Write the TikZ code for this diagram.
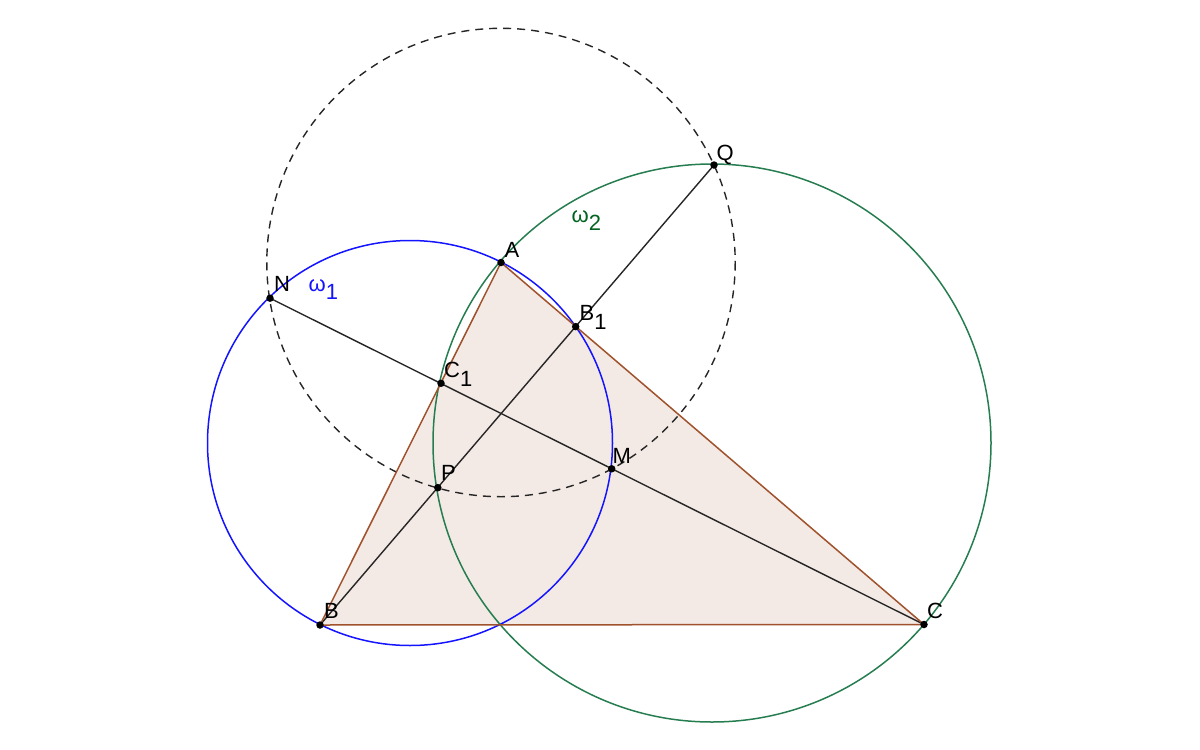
\documentclass[tikz,border=0pt]{standalone}
\usepackage{fontspec}
\setmainfont{Liberation Sans}
\definecolor{triFill}{RGB}{243,234,229}
\definecolor{triEdge}{RGB}{160,82,45}
\definecolor{omBlue}{RGB}{20,20,255}
\definecolor{omGreen}{RGB}{38,125,80}
\definecolor{omGreenTxt}{RGB}{0,100,30}
\newcommand{\sbs}[1]{\raisebox{-0.4em}{#1}}
\begin{document}
\begin{tikzpicture}[x=1pt,y=-1pt,
  pt/.style={circle,fill=black,inner sep=0pt,minimum size=7.5pt},
  lab/.style={anchor=base west,inner sep=0pt,font=\fontsize{22}{26}\selectfont},
  seg/.style={line width=1.4pt,draw=black!85},
  circ/.style={line width=1.5pt}]
\useasboundingbox (0,0) rectangle (1200,750);
% points
\coordinate (A) at (501,262.5);
\coordinate (B) at (320,625);
\coordinate (C) at (924,624.5);
\coordinate (B1) at (575.7,326.6);
\coordinate (C1) at (441,383.3);
\coordinate (P) at (437.8,487.7);
\coordinate (M) at (611.7,468.8);
\coordinate (N) at (270,298.2);
\coordinate (Q) at (714,165);
% triangle fill
\fill[triFill] (A) -- (B) -- (C) -- cycle;
% circles
\draw[circ,omBlue] (410,443) circle[radius=202.5];
\draw[circ,omGreen] (712,443) circle[radius=279];
\draw[line width=1.4pt,black!85,dash pattern=on 8pt off 6pt] (A) circle[radius=234.2];
% lines
\draw[seg] (N) -- (C);
\draw[seg] (B) -- (Q);
% triangle edges
\draw[line width=1.5pt,triEdge,line join=round] (A) -- (B) -- (C) -- cycle;
% dots
\foreach \p in {A,B,C,B1,C1,P,M,N,Q} \node[pt] (d\p) at (\p) {};
% labels
\node[lab] (lA) at (504.5,257) {A};
\node[lab] (lB1) at (579.5,320.7) {B\sbs{1}};
\node[lab] (lN) at (274,291.7) {N};
\node[lab,text=omBlue] (lw1) at (308.5,291) {ω\sbs{1}};
\node[lab] (lC1) at (444,377.3) {C\sbs{1}};
\node[lab] (lP) at (441,480) {P};
\node[lab] (lM) at (612.5,463) {M};
\node[lab] (lB) at (324,618) {B};
\node[lab] (lC) at (927,618) {C};
\node[lab] (lQ) at (716.5,160) {Q};
\node[lab,text=omGreenTxt] (lw2) at (571.5,222) {ω\sbs{2}};
\end{tikzpicture}
\end{document}
